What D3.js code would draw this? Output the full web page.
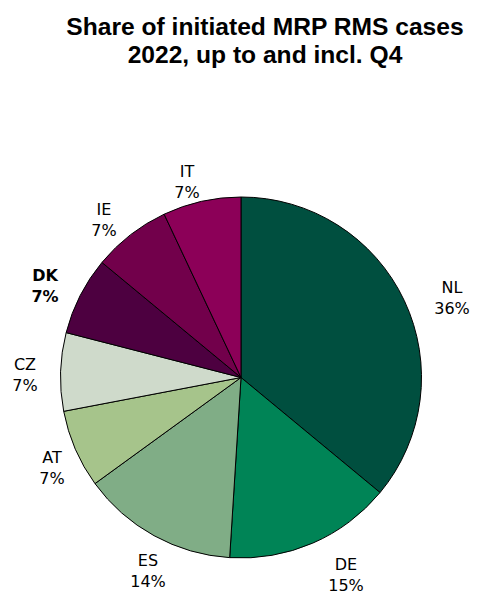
<!DOCTYPE html>
<html><head><meta charset="utf-8">
<script src="https://cdn.jsdelivr.net/npm/d3@7"></script>
<style>body{margin:0;background:#fff}</style>
</head><body>
<svg id="c" width="486" height="610"></svg>
<script>
const countries = ["NL","DE","ES","AT","CZ","DK","IE","IT"];
const shares = [36,15,14,7,7,7,7,7];
const colors = ["#004f3f","#008456","#80ad86","#a6c48b","#cfdacb","#4d0040","#72004b","#8c0058"];
const boldLabels = ["DK"];
// label anchor positions (center x, first baseline y)
const labelPos = [[452,293],[346,570],[148,566],[52,463],[25,370],[45,281],[104,215],[187,177]];
const titleLines = ["Share of initiated MRP RMS cases","2022, up to and incl. Q4"];

const svg = d3.select("#c");
const cx = 241, cy = 377.5, r = 180.5;
const data = countries.map((c,i)=>({name:c, value:shares[i], color:colors[i], pos:labelPos[i]}));
const pie = d3.pie().value(d=>d.value).sort(null);
const arc = d3.arc().innerRadius(0).outerRadius(r);
const g = svg.append("g").attr("transform",`translate(${cx},${cy})`);
g.selectAll("path").data(pie(data)).join("path")
  .attr("d",arc).attr("fill",d=>d.data.color)
  .attr("stroke","#000").attr("stroke-width",1).attr("stroke-linejoin","round");

const lab = svg.selectAll("text.lab").data(data).join("text").attr("class","lab")
  .attr("text-anchor","middle")
  .style("font-family","Verdana, 'DejaVu Sans', sans-serif").style("font-size","16px")
  .style("font-weight",d=>boldLabels.includes(d.name)?"bold":"normal")
  .attr("fill","#000");
lab.append("tspan").attr("x",d=>d.pos[0]).attr("y",d=>d.pos[1]).text(d=>d.name);
lab.append("tspan").attr("x",d=>d.pos[0]).attr("y",d=>d.pos[1]+21).text(d=>d.value+"%");

svg.selectAll("text.title").data(titleLines).join("text").attr("class","title")
  .attr("x",265).attr("y",(d,i)=>35+i*28).attr("text-anchor","middle")
  .style("font-family","Arial, 'Liberation Sans', sans-serif").style("font-size","24.6px").style("font-weight","bold")
  .text(d=>d);
</script>
</body></html>
